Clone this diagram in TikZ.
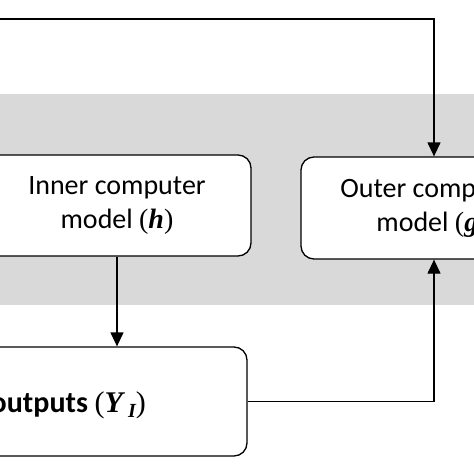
\documentclass[tikz,border=0pt]{standalone}
\usepackage{fontspec}
\setmainfont{Carlito}
\newfontfamily\symfont{Liberation Serif}
\usetikzlibrary{arrows.meta}
\definecolor{bandgray}{HTML}{D9D9D9}
\newcommand{\mvar}[1]{{\symfont\bfseries\itshape #1}}
\newcommand{\mpar}[1]{{\symfont(}#1{\symfont)}}
\begin{document}
\begin{tikzpicture}[x=1pt,y=-1pt,
  box/.style={draw,line width=1.3pt,rounded corners=13pt,fill=white,inner sep=0pt,align=center},
  link/.style={line width=1.3pt,-{Triangle[length=14pt,width=13pt]}}]
\useasboundingbox (0,0) rectangle (474,474);
\clip (0,0) rectangle (474,474);
\fontsize{28}{34}\selectfont
\fill [bandgray] (0,94) rectangle (474,305);
\node [box,minimum width=268pt,minimum height=101pt] (inner) at (117,205.5) {Inner computer\\model \mpar{\mvar{h}}};
\node [box,minimum width=262pt,minimum height=102pt] (outer) at (432,208) {Outer computer\\model \mpar{\mvar{g}}};
\node [box,minimum width=300pt,minimum height=109pt] (outbox) at (97,401.5) {};
\node [anchor=east,inner sep=0pt,font=\fontsize{30}{34}\selectfont] (outlabel) at (146,405) {\textbf{outputs} \mpar{\mvar{Y}\,\raisebox{-0.35ex}{\fontsize{20}{20}\selectfont\mvar{I}}}};
\coordinate (topin) at (-5,19);
\draw [link] (topin) -| ([xshift=2pt]outer.north);
\draw [link] (inner.south) -- (inner.south |- outbox.north);
\draw [link] (outbox.east) -| ([xshift=2pt]outer.south);
\end{tikzpicture}
\end{document}
